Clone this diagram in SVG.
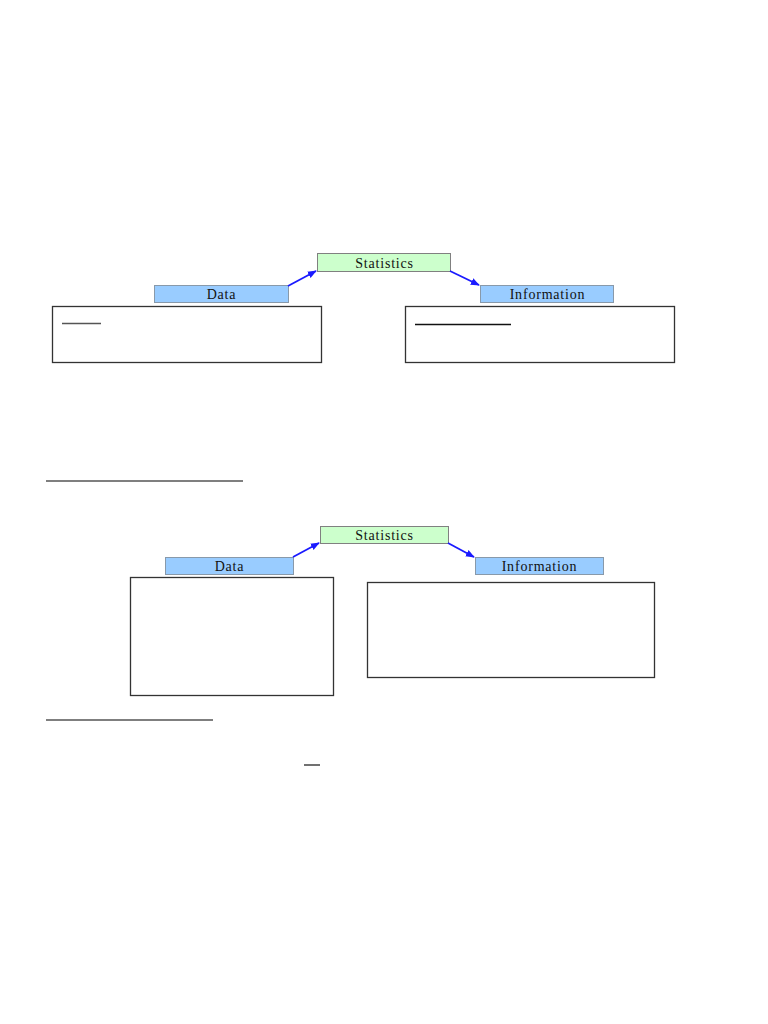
<svg xmlns="http://www.w3.org/2000/svg" width="768" height="1024" viewBox="0 0 768 1024">
<defs>
<style>
.green{fill:#ccffcc;stroke:#808080;stroke-width:1}
.blue{fill:#99ccff;stroke:#8899aa;stroke-width:1}
.box{fill:#ffffff;stroke:#333333;stroke-width:1.3}
.lbl{font-family:"Liberation Serif",serif;font-size:14px;letter-spacing:0.8px;fill:#111111;text-anchor:middle}
.rule{stroke:#555555;stroke-width:1.5}
.conn{stroke:#1a1aff;stroke-width:1.8;fill:none}
</style>
<marker id="ah" viewBox="0 0 10 10" refX="9" refY="5" markerWidth="5" markerHeight="5" orient="auto-start-reverse">
<path d="M0,1 L10,5 L0,9 z" fill="#1a1aff"/>
</marker>
</defs>
<rect width="768" height="1024" fill="#ffffff"/>

<g id="d1-statistics"><rect class="green" x="317.5" y="253.5" width="133" height="18"/><text class="lbl" x="384.5" y="267.5">Statistics</text></g>
<g id="d1-data"><rect class="blue" x="154.5" y="285.5" width="134" height="17"/><text class="lbl" x="221.5" y="299">Data</text></g>
<g id="d1-information"><rect class="blue" x="480.5" y="285.5" width="133" height="17"/><text class="lbl" x="547.5" y="299">Information</text></g>
<g id="d1-databox"><rect class="box" x="52.5" y="306.5" width="269" height="56"/><line class="rule" x1="62" y1="323.5" x2="101" y2="323.5"/></g>
<g id="d1-infobox"><rect class="box" x="405.5" y="306.5" width="269" height="56"/><line x1="415" y1="324.5" x2="511" y2="324.5" stroke="#111" stroke-width="1.5"/></g>

<g id="d2-statistics"><rect class="green" x="320.5" y="526.5" width="128" height="17"/><text class="lbl" x="384.5" y="540">Statistics</text></g>
<g id="d2-data"><rect class="blue" x="165.5" y="557.5" width="128" height="17"/><text class="lbl" x="229.5" y="571">Data</text></g>
<g id="d2-information"><rect class="blue" x="475.5" y="557.5" width="128" height="17"/><text class="lbl" x="539.5" y="571">Information</text></g>
<g id="d2-databox"><rect class="box" x="130.5" y="577.5" width="203" height="118"/></g>
<g id="d2-infobox"><rect class="box" x="367.5" y="582.5" width="287" height="95"/></g>

<g id="rules">
<line class="rule" x1="46" y1="481" x2="243" y2="481"/>
<line class="rule" x1="46" y1="720" x2="213" y2="720"/>
<line x1="304" y1="765" x2="320" y2="765" stroke="#111" stroke-width="1.2"/>
</g>

<g id="connectors">
<line class="conn" x1="288" y1="286" x2="316" y2="271" marker-end="url(#ah)"/>
<line class="conn" x1="450" y1="271" x2="479" y2="285" marker-end="url(#ah)"/>
<line class="conn" x1="293" y1="557" x2="319" y2="543" marker-end="url(#ah)"/>
<line class="conn" x1="448" y1="543" x2="474" y2="557" marker-end="url(#ah)"/>
</g>
</svg>
